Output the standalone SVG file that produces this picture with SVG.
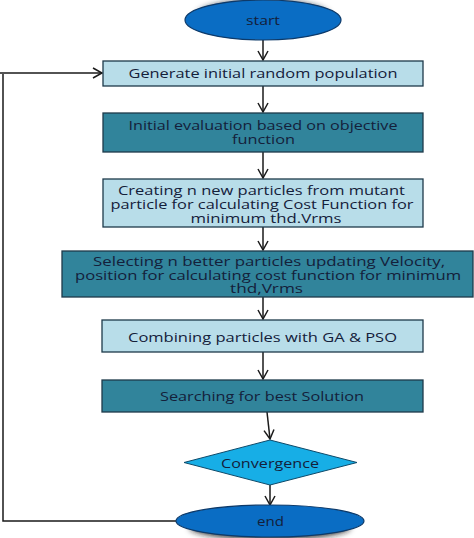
<svg xmlns="http://www.w3.org/2000/svg" width="474" height="538" viewBox="0 0 474 538">
<defs>
<style>
.lt{fill:#b8dde9;stroke:#1e3a4a;stroke-width:1.3}
.dk{fill:#31849b;stroke:#1e3a4a;stroke-width:1.3}
.ov{fill:#0a6dc4;stroke:#0d3a6a;stroke-width:1.2}
.dm{fill:#17aee6;stroke:#0d4a6a;stroke-width:1}
.t{font-family:"Open Sans","Liberation Sans",sans-serif;font-size:13.5px;fill:#14203a;text-anchor:middle;dominant-baseline:central}
.c{fill:none;stroke:#1a1a1a;stroke-width:1.5}
</style>
<marker id="ah" markerWidth="12" markerHeight="12" refX="10" refY="6" orient="auto" markerUnits="userSpaceOnUse">
<path d="M1,1 L10,6 L1,11" fill="none" stroke="#1a1a1a" stroke-width="1.5"/>
</marker>
<filter id="sh" x="-20%" y="-50%" width="140%" height="200%"><feGaussianBlur stdDeviation="3"/></filter>
</defs>
<rect width="474" height="538" fill="#ffffff"/>
<g id="connectors">
<line class="c" x1="263" y1="40" x2="263" y2="60" marker-end="url(#ah)"/>
<line class="c" x1="263" y1="86" x2="263" y2="112" marker-end="url(#ah)"/>
<line class="c" x1="263" y1="152" x2="263" y2="178" marker-end="url(#ah)"/>
<line class="c" x1="263" y1="227" x2="263" y2="250" marker-end="url(#ah)"/>
<line class="c" x1="263" y1="297" x2="263" y2="319" marker-end="url(#ah)"/>
<line class="c" x1="263" y1="352" x2="263" y2="379" marker-end="url(#ah)"/>
<line class="c" x1="267" y1="412" x2="270" y2="439" marker-end="url(#ah)"/>
<line class="c" x1="270" y1="485" x2="270" y2="505" marker-end="url(#ah)"/>
<polyline class="c" points="176,521 3,521 3,74"/>
<line class="c" x1="0" y1="73" x2="102" y2="73" marker-end="url(#ah)"/>
</g>
<g id="start">
<ellipse cx="263" cy="16" rx="66" ry="16" fill="#1a2a3a" filter="url(#sh)"/>
<ellipse class="ov" cx="263" cy="20" rx="78" ry="20"/>
<text class="t" x="263" y="20" textLength="34" lengthAdjust="spacingAndGlyphs">start</text>
</g>
<g id="generate">
<rect class="lt" x="103" y="61" width="320" height="25"/>
<text class="t" x="263" y="73" textLength="269" lengthAdjust="spacingAndGlyphs">Generate initial random population</text>
</g>
<g id="evaluation">
<rect class="dk" x="103" y="113" width="320" height="39"/>
<text class="t" x="263" y="125" textLength="269" lengthAdjust="spacingAndGlyphs">Initial evaluation based on objective</text>
<text class="t" x="263.5" y="139" textLength="63" lengthAdjust="spacingAndGlyphs">function</text>
</g>
<g id="creating">
<rect class="lt" x="103" y="179" width="320" height="48"/>
<text class="t" x="261.5" y="190" textLength="287" lengthAdjust="spacingAndGlyphs">Creating n new particles from mutant</text>
<text class="t" x="262" y="204" textLength="303" lengthAdjust="spacingAndGlyphs">particle for calculating Cost Function for</text>
<text class="t" x="266" y="218" textLength="151" lengthAdjust="spacingAndGlyphs">minimum thd.Vrms</text>
</g>
<g id="selecting">
<rect class="dk" x="62" y="251" width="411" height="46"/>
<text class="t" x="269" y="261" textLength="352" lengthAdjust="spacingAndGlyphs">Selecting n better particles updating Velocity,</text>
<text class="t" x="268" y="274.5" textLength="386" lengthAdjust="spacingAndGlyphs">position for calculating cost function for minimum</text>
<text class="t" x="266.5" y="288" textLength="73" lengthAdjust="spacingAndGlyphs">thd,Vrms</text>
</g>
<g id="combining">
<rect class="lt" x="102" y="320" width="321" height="32"/>
<text class="t" x="262.5" y="337" textLength="269" lengthAdjust="spacingAndGlyphs">Combining particles with GA &amp; PSO</text>
</g>
<g id="searching">
<rect class="dk" x="102" y="380" width="321" height="32"/>
<text class="t" x="262" y="395.5" textLength="204" lengthAdjust="spacingAndGlyphs">Searching for best Solution</text>
</g>
<g id="convergence">
<polygon class="dm" points="270,440 357,462.5 270,485 184,462.5"/>
<text class="t" x="270" y="463" textLength="98" lengthAdjust="spacingAndGlyphs">Convergence</text>
</g>
<g id="end">
<ellipse cx="270" cy="527" rx="80" ry="12" fill="#1a1a1a" filter="url(#sh)"/>
<ellipse class="ov" cx="270" cy="521" rx="94" ry="16"/>
<text class="t" x="270.5" y="521" textLength="27" lengthAdjust="spacingAndGlyphs">end</text>
</g>
</svg>
